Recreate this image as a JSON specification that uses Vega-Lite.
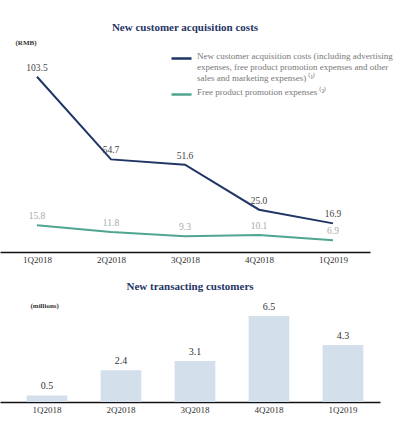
{
  "$schema": "https://vega.github.io/schema/vega-lite/v6.json",
  "padding": {"top": 22, "left": 0, "right": 0, "bottom": 0},
  "background": "white",
  "datasets": {
    "costs": [
      {"quarter": "1Q2018", "series": "total", "value": 103.5},
      {"quarter": "2Q2018", "series": "total", "value": 54.7},
      {"quarter": "3Q2018", "series": "total", "value": 51.6},
      {"quarter": "4Q2018", "series": "total", "value": 25.0},
      {"quarter": "1Q2019", "series": "total", "value": 16.9},
      {"quarter": "1Q2018", "series": "free", "value": 15.8},
      {"quarter": "2Q2018", "series": "free", "value": 11.8},
      {"quarter": "3Q2018", "series": "free", "value": 9.3},
      {"quarter": "4Q2018", "series": "free", "value": 10.1},
      {"quarter": "1Q2019", "series": "free", "value": 6.9}
    ],
    "customers": [
      {"quarter": "1Q2018", "millions": 0.5},
      {"quarter": "2Q2018", "millions": 2.4},
      {"quarter": "3Q2018", "millions": 3.1},
      {"quarter": "4Q2018", "millions": 6.5},
      {"quarter": "1Q2019", "millions": 4.3}
    ]
  },
  "spacing": 17,
  "vconcat": [
    {
      "title": {"text": "New customer acquisition costs", "offset": 4},
      "width": 370,
      "height": 215,
      "data": {"name": "costs"},
      "encoding": {
        "x": {
          "field": "quarter",
          "type": "ordinal",
          "sort": null,
          "scale": {"type": "point", "padding": 0.5},
          "axis": {"title": null, "labelAngle": 0}
        },
        "y": {
          "field": "value",
          "type": "quantitative",
          "scale": {"domain": [0, 127]},
          "axis": {
            "title": "(RMB)",
            "labels": false,
            "ticks": false,
            "domain": false,
            "grid": false,
            "titleAngle": 0,
            "titleX": 15,
            "titleY": 5,
            "titleAlign": "left",
            "titleBaseline": "middle",
            "minExtent": 0,
            "maxExtent": 0
          }
        }
      },
      "layer": [
        {
          "mark": {"type": "line", "strokeWidth": 2},
          "encoding": {
            "color": {
              "field": "series",
              "type": "nominal",
              "scale": {"domain": ["total", "free"], "range": ["#1f3566", "#4fa58f"]},
              "legend": {
                "title": null,
                "orient": "none",
                "legendX": 170,
                "legendY": 10,
                "symbolType": "stroke",
                "symbolSize": 400,
                "symbolStrokeWidth": 2.5,
                "labelFont": "Liberation Serif",
                "labelFontSize": 9,
                "labelColor": "#777777",
                "labelLimit": 400,
                "labelBaseline": "alphabetic",
                "rowPadding": 0,
                "labelExpr": "datum.label == 'total' ? ['New customer acquisition costs (including advertising', 'expenses, free product promotion expenses and other', 'sales and marketing expenses) ⁽¹⁾'] : 'Free product promotion expenses ⁽²⁾'"
              }
            }
          }
        },
        {
          "mark": {"type": "text", "dy": -9, "font": "Liberation Serif", "fontSize": 9.5},
          "encoding": {
            "text": {"field": "value", "type": "quantitative", "format": ".1f"},
            "color": {
              "condition": {"test": "datum.series == 'free'", "value": "#aaaaaa"},
              "value": "#444444"
            }
          }
        }
      ]
    },
    {
      "title": {"text": "New transacting customers", "offset": 6},
      "width": 380,
      "height": 104,
      "data": {"name": "customers"},
      "encoding": {
        "x": {
          "field": "quarter",
          "type": "ordinal",
          "sort": null,
          "scale": {"paddingInner": 0.45, "paddingOuter": 0.2926, "align": 0.615},
          "axis": {"title": null, "labelAngle": 0}
        },
        "y": {
          "field": "millions",
          "type": "quantitative",
          "scale": {"domain": [0, 7.86]},
          "axis": {
            "title": "(millions)",
            "labels": false,
            "ticks": false,
            "domain": false,
            "grid": false,
            "titleAngle": 0,
            "titleX": 30,
            "titleY": 7,
            "titleAlign": "left",
            "titleBaseline": "middle",
            "minExtent": 0,
            "maxExtent": 0
          }
        }
      },
      "layer": [
        {"mark": {"type": "bar", "color": "#d3dfeb"}},
        {
          "mark": {"type": "text", "dy": -9, "font": "Liberation Serif", "fontSize": 10, "color": "#333333"},
          "encoding": {"text": {"field": "millions", "type": "quantitative", "format": ".1f"}}
        }
      ]
    }
  ],
  "config": {
    "view": {"stroke": null},
    "font": "Liberation Serif",
    "title": {"font": "Liberation Serif", "fontSize": 11, "fontWeight": "bold", "color": "#1f3566", "anchor": "middle"},
    "axisX": {
      "domainColor": "#111111",
      "domainWidth": 1.5,
      "ticks": false,
      "labelPadding": 3,
      "labelFont": "Liberation Serif",
      "labelFontSize": 9,
      "labelColor": "#333333",
      "grid": false
    },
    "axisY": {
      "titleFont": "Liberation Serif",
      "titleFontSize": 7,
      "titleFontWeight": "bold",
      "titleColor": "#333333"
    }
  }
}
